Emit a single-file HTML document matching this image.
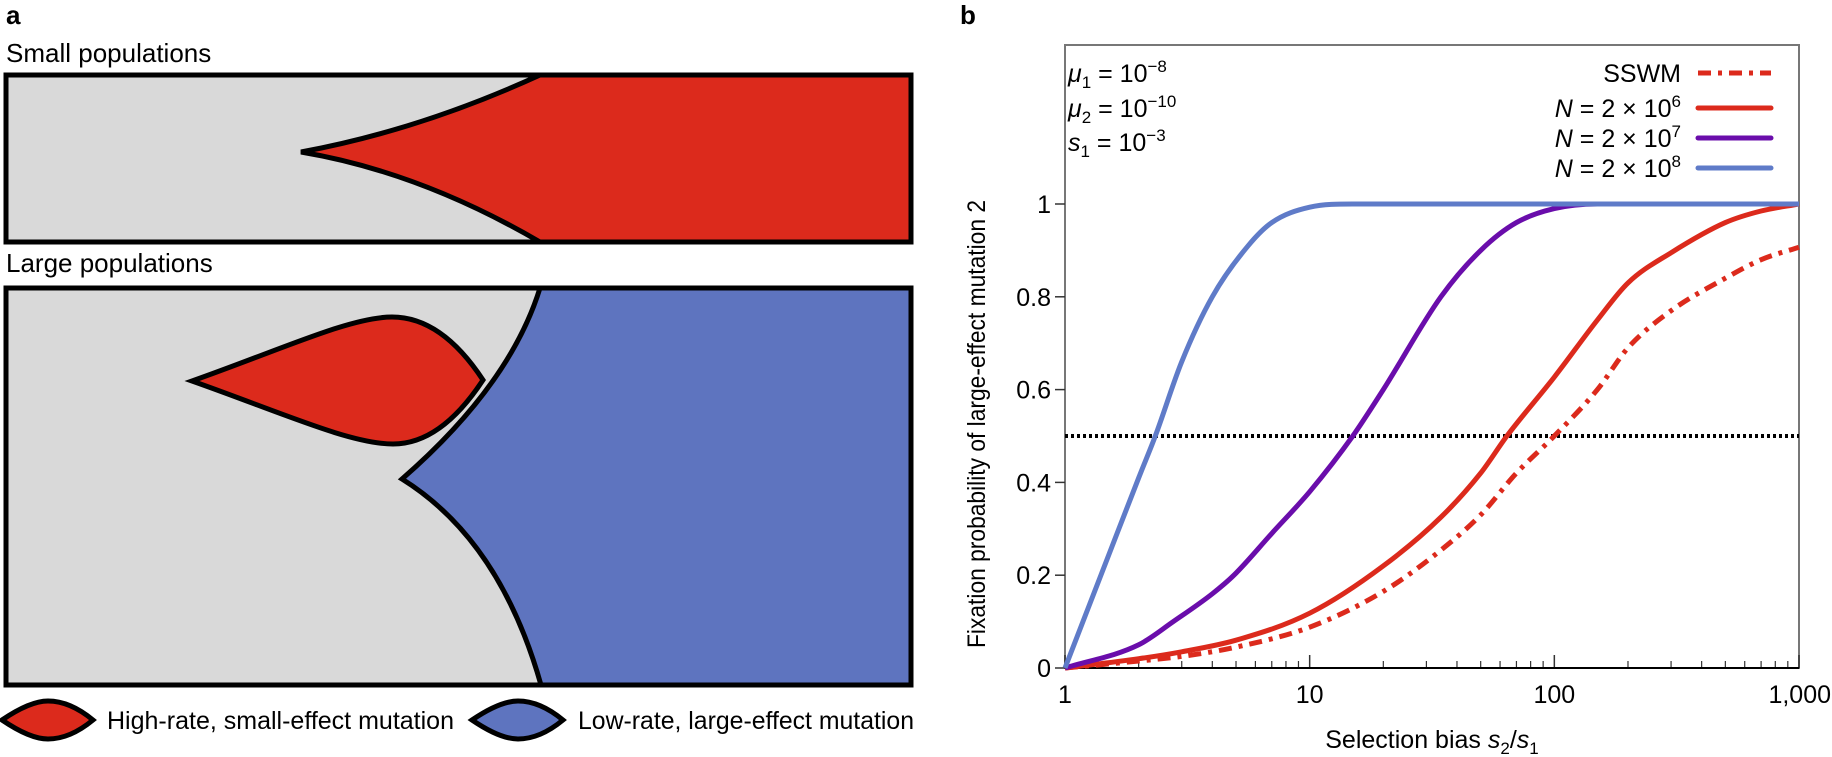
<!DOCTYPE html>
<html><head><meta charset="utf-8"><style>
html,body{margin:0;padding:0;background:#fff;}
svg{display:block;font-family:"Liberation Sans",sans-serif;}
</style></head><body>
<svg id="fig" width="1832" height="757" viewBox="0 0 1832 757">
  <g>
    <text x="6" y="24" font-size="26" font-weight="bold">a</text>
    <text x="6" y="62" font-size="26">Small populations</text>
    <g>
      <rect x="6" y="75" width="905" height="167" fill="#d9d9d9"/>
      <path d="M540,75 L911,75 L911,242 L540,242 Q420,172 301,152 Q420,130 540,75 Z" fill="#dc2a1c" stroke="#000" stroke-width="5" stroke-linejoin="miter"/>
      <rect x="6" y="75" width="905" height="167" fill="none" stroke="#000" stroke-width="5"/>
    </g>
    <text x="6" y="272" font-size="26">Large populations</text>
    <g>
      <rect x="6" y="288" width="905" height="397" fill="#d9d9d9"/>
      <path d="M540,288 Q510,385 402,479 Q500,540 541,685 L911,685 L911,288 Z" fill="#5e74bf" stroke="#000" stroke-width="5"/>
      <path d="M192,381 C280,350 350,317 392,317 C430,317 460,345 483,380 C460,415 430,444 393,444 C350,444 280,412 192,381 Z" fill="#dc2a1c" stroke="#000" stroke-width="5"/>
      <rect x="6" y="288" width="905" height="397" fill="none" stroke="#000" stroke-width="5"/>
    </g>
    <g>
      <path d="M2,720 Q30,701 48,701 Q70,701 93,720 Q70,739 48,739 Q30,739 2,720 Z" fill="#dc2a1c" stroke="#000" stroke-width="5"/>
      <text x="107" y="729" font-size="25" textLength="347" lengthAdjust="spacingAndGlyphs">High-rate, small-effect mutation</text>
      <path d="M472,720 Q500,701 518,701 Q540,701 563,720 Q540,739 518,739 Q500,739 472,720 Z" fill="#5e74bf" stroke="#000" stroke-width="5"/>
      <text x="578" y="729" font-size="25" textLength="336" lengthAdjust="spacingAndGlyphs">Low-rate, large-effect mutation</text>
    </g>
  </g>
  <g id="panelb">
    <text x="960" y="24" font-size="26" font-weight="bold">b</text>
  </g>
</svg>
<script>
const xCats = [1,1.5,2,2.34,3,4,5.6,7,10,15,1000];
const blueVals = [0,0.24,0.41,0.5,0.66,0.8,0.91,0.96,0.993,1,1];
const purpleX = [1,2,2.77,4,4.9,7,10,15,20,34.4,50,70,100,150,1000];
const purpleVals = [0,0.05,0.1,0.16,0.2,0.29,0.38,0.5,0.6,0.8,0.9,0.96,0.99,1,1];
const redX = [1,2,3,5,10,20,34.4,50,64,100,150,200,300,500,700,1000];
const redVals = [0,0.02,0.035,0.06,0.118,0.22,0.325,0.42,0.5,0.627,0.75,0.83,0.895,0.96,0.985,1];
const sswmX = [1,2,3,5,10,20,34.4,50,70,100,150,200,300,500,700,1000];
const sswmVals = [0,0.015,0.025,0.045,0.088,0.165,0.254,0.33,0.42,0.5,0.6,0.69,0.77,0.84,0.88,0.907];
const yTicks = [0,0.2,0.4,0.6,0.8,1];
const yTickLabels = ["0","0.2","0.4","0.6","0.8","1"];
const xMajor = [1,10,100,1000];
const xMajorLabels = ["1","10","100","1,000"];
const threshold = 0.5;

const NS="http://www.w3.org/2000/svg";
const g=document.getElementById('panelb');
const L=1065,R=1799,T=45,B=668,Y1=204;
const xs=v=>L+(Math.log10(v)/3)*(R-L);
const ys=v=>B-v*(B-Y1);
function mk(t,a){const e=document.createElementNS(NS,t);for(const k in a)e.setAttribute(k,a[k]);g.appendChild(e);return e;}

const box=mk('rect',{x:L,y:T,width:R-L,height:B-T,fill:'none',stroke:'#777','stroke-width':2});



yTicks.forEach((v,i)=>{
  const t=mk('line',{x1:L-10,x2:L,y1:ys(v),y2:ys(v),stroke:'#333','stroke-width':1.5});
  
  
  const l=mk('text',{x:L-14,y:ys(v)+9,'font-size':25,'text-anchor':'end'});
  l.textContent=yTickLabels[i];
  
  
});
for(let d=0;d<3;d++){for(let m=2;m<=9;m++){
  const v=Math.pow(10,d)*m;
  const t=mk('line',{x1:xs(v),x2:xs(v),y1:B,y2:B-7,stroke:'#333','stroke-width':1.2});
  
  
}}
xMajor.forEach((v,i)=>{
  const t=mk('line',{x1:xs(v),x2:xs(v),y1:B,y2:B-13,stroke:'#333','stroke-width':1.5});
  
  
  const l=mk('text',{x:xs(v),y:B+35,'font-size':25,'text-anchor':i==3?'end':'middle'});
  if(i==3) l.setAttribute('x',xs(v)+32);
  l.textContent=xMajorLabels[i];
  
  
});
const ax=mk('line',{x1:L,x2:R,y1:B,y2:B,stroke:'#000','stroke-width':2});



const th=mk('line',{x1:L,x2:R,y1:ys(threshold),y2:ys(threshold),stroke:'#000','stroke-width':4,'stroke-dasharray':'3,3'});



// monotone cubic (Fritsch-Carlson) in log-x space
function curve(X,V){
  const x=X.map(v=>Math.log10(v)),y=V.slice(),n=x.length;
  const d=[],m=[];
  for(let i=0;i<n-1;i++)d.push((y[i+1]-y[i])/(x[i+1]-x[i]));
  m[0]=d[0];m[n-1]=d[n-2];
  for(let i=1;i<n-1;i++){m[i]=(d[i-1]*d[i]<=0)?0:(d[i-1]+d[i])/2;}
  for(let i=0;i<n-1;i++){
    if(d[i]===0){m[i]=0;m[i+1]=0;continue;}
    const a=m[i]/d[i],b=m[i+1]/d[i],s=a*a+b*b;
    if(s>9){const t=3/Math.sqrt(s);m[i]=t*a*d[i];m[i+1]=t*b*d[i];}
  }
  let p='M'+(L+x[0]/3*(R-L)).toFixed(1)+','+ys(y[0]).toFixed(1);
  for(let i=0;i<n-1;i++){
    const h=x[i+1]-x[i];
    const c1x=x[i]+h/3,c1y=y[i]+m[i]*h/3,c2x=x[i+1]-h/3,c2y=y[i+1]-m[i+1]*h/3;
    const X2=v=>(L+v/3*(R-L)).toFixed(1);
    p+=' C'+X2(c1x)+','+ys(c1y).toFixed(1)+' '+X2(c2x)+','+ys(c2y).toFixed(1)+' '+X2(x[i+1])+','+ys(y[i+1]).toFixed(1);
  }
  return p;
}
const s1=mk('path',{d:curve(sswmX,sswmVals),fill:'none',stroke:'#dc2a1c','stroke-width':5,'stroke-dasharray':'13,7,4,7'});


const s2=mk('path',{d:curve(redX,redVals),fill:'none',stroke:'#dc2a1c','stroke-width':5});


const s3=mk('path',{d:curve(purpleX,purpleVals),fill:'none',stroke:'#6a0dab','stroke-width':5});


const s4=mk('path',{d:curve(xCats,blueVals),fill:'none',stroke:'#5f7bc8','stroke-width':5});



function txt(x,y,html,anchor,name){
  const e=mk('text',{x:x,y:y,'font-size':25,'text-anchor':anchor||'start'});
  e.innerHTML=html;
  
  
  return e;
}
txt(1068,82,'<tspan font-style="italic">μ</tspan><tspan font-size="17" dy="6">1</tspan><tspan dy="-6"> = 10</tspan><tspan font-size="17" dy="-10">−8</tspan>','start','mu1-annotation');
txt(1068,117,'<tspan font-style="italic">μ</tspan><tspan font-size="17" dy="6">2</tspan><tspan dy="-6"> = 10</tspan><tspan font-size="17" dy="-10">−10</tspan>','start','mu2-annotation');
txt(1068,151,'<tspan font-style="italic">s</tspan><tspan font-size="17" dy="6">1</tspan><tspan dy="-6"> = 10</tspan><tspan font-size="17" dy="-10">−3</tspan>','start','s1-annotation');

const legRows=[['SSWM',73,'#dc2a1c','13,7,4,7','legend-sswm'],['6',108,'#dc2a1c','','legend-n-2e6'],['7',138,'#6a0dab','','legend-n-2e7'],['8',168,'#5f7bc8','','legend-n-2e8']];
legRows.forEach(r=>{
  if(r[0]==='SSWM') txt(1681,r[1]+9,'SSWM','end',r[4]+'-label');
  else txt(1681,r[1]+9,'<tspan font-style="italic">N</tspan> = 2 × 10<tspan font-size="17" dy="-10">'+r[0]+'</tspan>','end',r[4]+'-label');
  const a={x1:1698,x2:1771,y1:r[1],y2:r[1],stroke:r[2],'stroke-width':5,'stroke-linecap':'round'};
  if(r[3]){a['stroke-dasharray']=r[3];a['stroke-linecap']='butt';}
  const l=mk('line',a);
  
  
});

const yt=mk('text',{x:0,y:0,'font-size':25,'text-anchor':'middle',transform:'translate(985,424) rotate(-90)',textLength:448,lengthAdjust:'spacingAndGlyphs'});
yt.textContent='Fixation probability of large-effect mutation 2';


const xt=txt(1432,748,'Selection bias <tspan font-style="italic">s</tspan><tspan font-size="17" dy="6">2</tspan><tspan dy="-6">/</tspan><tspan font-style="italic">s</tspan><tspan font-size="17" dy="6">1</tspan>','middle','x-axis-title');
</script>
</body></html>
